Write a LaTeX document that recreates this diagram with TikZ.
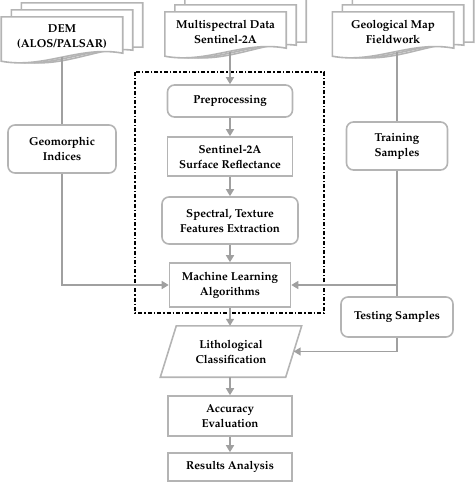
\documentclass[tikz,border=0pt]{standalone}
\usepackage[T1]{fontenc}
\usepackage{mathpazo}
\usetikzlibrary{arrows.meta,calc,backgrounds}
\definecolor{boxgray}{HTML}{B4B4B4}
\definecolor{linegray}{HTML}{A0A0A0}
% stack of three pages behind a document node
\newcommand{\pagestack}[1]{%
  \foreach \o in {2,1,0}{
    \draw[page] ([shift={(10*\o,-7*\o)}]#1.north west) -- ([shift={(10*\o,-7*\o)}]#1.north east)
      -- ([shift={(10*\o,-4-3*\o)}]#1.south east)
      .. controls ([shift={(10*\o,-12)}]$(#1.south west)!0.65!(#1.south east)$)
      and ([shift={(10*\o,12)}]$(#1.south west)!0.35!(#1.south east)$)
      .. ([shift={(10*\o,4)}]#1.south west) -- cycle;
  }}
\begin{document}
\begin{tikzpicture}[
  x=1pt, y=-1pt,
  every node/.style={font=\bfseries\fontsize{11.5}{15}\selectfont, align=center},
  roundbox/.style={draw=boxgray, line width=1.6pt, rounded corners=7pt, inner sep=0pt},
  sharpbox/.style={draw=boxgray, line width=1.6pt, inner sep=0pt},
  docbox/.style={inner sep=0pt, minimum width=121pt, minimum height=40pt},
  parabox/.style={inner sep=0pt, minimum width=125pt, minimum height=51pt},
  page/.style={draw=boxgray, line width=1.6pt, fill=white},
  frame/.style={draw=black, line width=1.4pt, dash pattern=on 4pt off 2pt on 1.4pt off 2pt},
  flow/.style={draw=linegray, line width=1.6pt, -{Triangle[length=7pt,width=8pt]}},
  link/.style={draw=linegray, line width=1.6pt}
]
\useasboundingbox (0,0) rectangle (474,482);
% Define the input documents
\node[docbox] (dem) at (62,37) {DEM\\(ALOS/PALSAR)};
\node[docbox] (msd) at (225.5,32) {Multispectral Data\\Sentinel-2A};
\node[docbox] (gmap) at (393,32) {Geological Map\\Fieldwork};
\begin{pgfonlayer}{background}
\pagestack{dem}
\pagestack{msd}
\pagestack{gmap}
\end{pgfonlayer}
% Define the processing steps
\node[roundbox, minimum width=125pt, minimum height=32pt] (prep) at (230,101) {Preprocessing};
\node[sharpbox, minimum width=125pt, minimum height=39pt] (surf) at (230,156.5) {Sentinel-2A\\Surface Reflectance};
\node[roundbox, minimum width=136pt, minimum height=47pt] (feat) at (230,220.5) {Spectral, Texture\\Features Extraction};
\node[sharpbox, minimum width=121pt, minimum height=44pt] (ml) at (230,285) {Machine Learning\\Algorithms};
\node[parabox] (litho) at (231,351.5) {Lithological\\Classification};
\draw[draw=boxgray, line width=1.6pt] ([xshift=8pt]litho.north west) -- ([xshift=8pt]litho.north east)
  -- ([xshift=-8pt]litho.south east) -- ([xshift=-8pt]litho.south west) -- cycle;
\node[sharpbox, minimum width=124pt, minimum height=40pt] (acc) at (230,416) {Accuracy\\Evaluation};
\node[sharpbox, minimum width=124pt, minimum height=28pt] (res) at (230,467) {Results Analysis};
\node[roundbox, minimum width=108pt, minimum height=48pt] (geo) at (62,149) {Geomorphic\\Indices};
\node[roundbox, minimum width=101pt, minimum height=48pt] (train) at (397,146) {Training\\Samples};
\node[roundbox, minimum width=112pt, minimum height=40pt] (test) at (397,317) {Testing Samples};
% Define the frame
\draw[frame] (135,72) rectangle (324,313);
% Define the edges
\path[link] (dem) -- (geo);
\path[link] (gmap.south -| train.north) -- (train.north);
\path[link] (train) -- (test);
\path[flow] (msd.south -| prep.north) -- (prep.north);
\path[flow] (prep) -- (surf);
\path[flow] (surf) -- (feat);
\path[flow] (feat) -- (ml);
\path[flow] (ml) -- (ml |- litho.north);
\path[flow] (litho.south -| acc) -- (acc);
\path[flow] (acc) -- (res);
\path[flow] (geo.south) |- (ml.west);
\path[flow] (train.south) |- (ml.east);
\path[flow] (test.south) |- (litho.east);
\end{tikzpicture}
\end{document}
